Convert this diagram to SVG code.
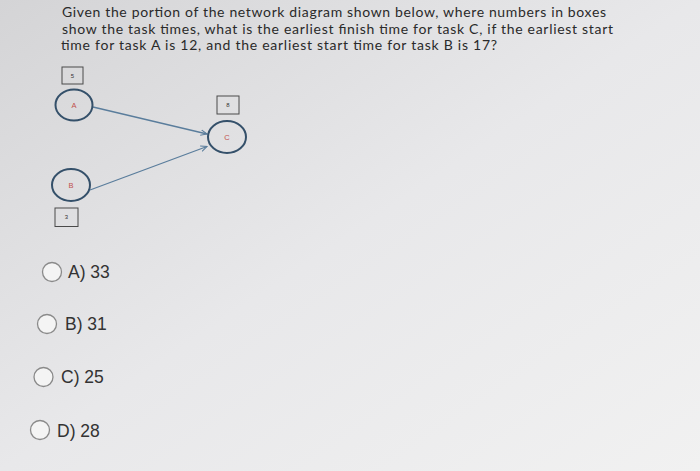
<svg xmlns="http://www.w3.org/2000/svg" width="700" height="471" viewBox="0 0 700 471">
<defs>
<linearGradient id="bg" x1="0" y1="0" x2="1" y2="1">
<stop offset="0" stop-color="#d4d4d6"/>
<stop offset="0.5" stop-color="#e8e8ea"/>
<stop offset="1" stop-color="#f1f1f1"/>
</linearGradient>
<marker id="arr" viewBox="0 0 10 10" refX="9" refY="5" markerWidth="7" markerHeight="7" orient="auto" markerUnits="userSpaceOnUse">
<path d="M0,1 L9,5 L0,9" fill="none" stroke="#5a7d9c" stroke-width="1.5"/>
</marker>
<style>
.q{font-family:Lato,"Liberation Sans",sans-serif;font-size:14px;fill:#2a2a2a}
.node{fill:none;stroke:#34506a;stroke-width:2}
.lbl{font-family:"Liberation Sans",sans-serif;font-size:7.5px;fill:#c0504d;text-anchor:middle}
.box{fill:none;stroke:#4a4a4a;stroke-width:1}
.num{font-family:"Liberation Sans",sans-serif;font-size:6px;fill:#333;text-anchor:middle}
.edge{stroke:#5a7d9c;stroke-width:1.3;fill:none;marker-end:url(#arr)}
.radio{fill:#f4f4f4;stroke:#8a8a8a;stroke-width:1.3}
.opt{font-family:"Liberation Sans",sans-serif;font-size:17.5px;fill:#333}
</style>
</defs>
<rect width="700" height="471" fill="url(#bg)"/>
<text class="q" x="62" y="17" textLength="544" lengthAdjust="spacing">Given the portion of the network diagram shown below, where numbers in boxes</text>
<text class="q" x="62" y="33.5" textLength="551" lengthAdjust="spacing">show the task times, what is the earliest finish time for task C, if the earliest start</text>
<text class="q" x="61" y="50" textLength="436" lengthAdjust="spacing">time for task A is 12, and the earliest start time for task B is 17?</text>
<g id="connectors">
<line class="edge" x1="93" y1="107" x2="207" y2="134"/>
<line class="edge" x1="90" y1="190" x2="207" y2="146.5"/>
</g>
<g id="nodeA">
<rect class="box" x="62" y="67" width="21" height="17"/>
<text class="num" x="72.5" y="77.5">5</text>
<ellipse class="node" cx="74" cy="105" rx="18.5" ry="15.5"/>
<text class="lbl" x="74" y="107.5">A</text>
</g>
<g id="nodeB">
<ellipse class="node" cx="71" cy="185" rx="19" ry="16"/>
<text class="lbl" x="71" y="187.5">B</text>
<rect class="box" x="55" y="208" width="23" height="18.5"/>
<text class="num" x="66.5" y="219">3</text>
</g>
<g id="nodeC">
<rect class="box" x="217" y="96" width="22" height="18"/>
<text class="num" x="228" y="107">8</text>
<ellipse class="node" cx="227" cy="137" rx="19" ry="16"/>
<text class="lbl" x="227" y="139.5">C</text>
</g>
<g id="options">
<circle class="radio" cx="52" cy="272" r="9.5"/>
<text class="opt" x="68" y="278">A) 33</text>
<circle class="radio" cx="47" cy="324" r="9.5"/>
<text class="opt" x="65" y="330">B) 31</text>
<circle class="radio" cx="43.5" cy="377" r="9.5"/>
<text class="opt" x="61" y="383">C) 25</text>
<circle class="radio" cx="40" cy="430" r="9.5"/>
<text class="opt" x="57" y="436.5">D) 28</text>
</g>
</svg>
